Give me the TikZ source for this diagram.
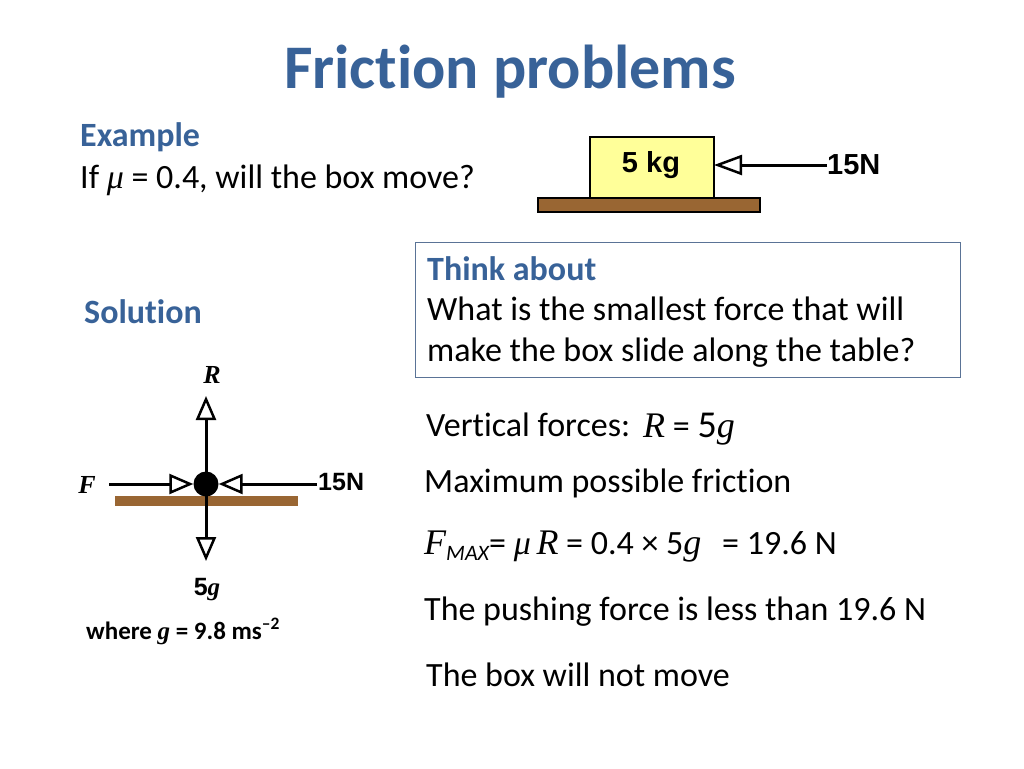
\documentclass[tikz,border=0pt]{standalone}
\usepackage{fontspec}
\setmainfont{Carlito}[Ligatures=NoCommon]
\newfontfamily\arialfont{Liberation Sans}
\newfontfamily\timesfont{Liberation Serif}
\usetikzlibrary{arrows.meta}
\definecolor{headblue}{RGB}{56,98,152}
\definecolor{boxyellow}{RGB}{255,255,153}
\definecolor{tablebrown}{RGB}{153,102,51}
\definecolor{frameblue}{RGB}{90,115,150}
\newcommand{\tvar}[1]{{\fontsize{36}{40}\timesfont\itshape #1}}
\tikzset{
  txt/.style={anchor=base west,inner sep=0pt,font=\fontsize{34}{40}\selectfont},
  head/.style={txt,text=headblue,font=\fontsize{34}{40}\selectfont\bfseries},
  lbl/.style={inner sep=0pt,font=\fontsize{29}{34}\selectfont\arialfont\bfseries},
  force/.style={line width=3pt,-{Triangle[fill=white,length=24pt,width=20pt,line width=2.5pt]}},
}
\begin{document}
\begin{tikzpicture}[x=1pt,y=-1pt]
  \useasboundingbox (0,0) rectangle (1024,768);
  \node[inner sep=0pt,text=headblue,font=\fontsize{62}{70}\selectfont\bfseries] (title) at (510,72) {Friction problems};
  \node[head] (example) at (80,146) {Example};
  \node[txt] (question) at (80,188) {If {\timesfont\itshape μ} = 0.4, will the box move?};
  % box on the table
  \draw[fill=tablebrown,line width=1.5pt] (538,198) rectangle (760,212);
  \draw[fill=boxyellow,line width=1.5pt] (590,137) rectangle (714,198);
  \node[lbl] (mass) at (651,165) {5 kg};
  \coordinate (boxside) at (714,165);
  \node[lbl,anchor=west] (push) at (827,165) {15N};
  \draw[force,-{Triangle[fill=white,length=28pt,width=20pt,line width=2.5pt]}] (push.west) -- (boxside);
  % think about
  \draw[frameblue,line width=1pt] (415,242) rectangle (960,377);
  \node[head] (think) at (427,280) {Think about};
  \node[txt] (q1) at (427,320) {What is the smallest force that will};
  \node[txt] (q2) at (427,361) {make the box slide along the table?};
  \node[head] (solution) at (84,323) {Solution};
  % force diagram
  \fill[tablebrown] (115,496) rectangle (298,506);
  \node[circle,fill=black,inner sep=0pt,minimum size=25pt] (dot) at (206,484) {};
  \node[inner sep=0pt,font=\fontsize{26}{30}\selectfont\timesfont\bfseries\itshape] (R) at (212,375) {R};
  \node[inner sep=0pt,font=\fontsize{26}{30}\selectfont\timesfont\bfseries\itshape] (F) at (87,485) {F};
  \node[inner sep=0pt,anchor=west,font=\fontsize{25}{30}\selectfont\arialfont\bfseries] (load) at (318,482) {15N};
  \node[inner sep=0pt,font=\fontsize{25}{30}\selectfont\arialfont\bfseries] (weight) at (207,590) {5{\timesfont\itshape g}};
  \coordinate (up) at (206,396);
  \coordinate (down) at (206,561);
  \coordinate (left) at (109,484);
  \coordinate (right) at (317,484);
  \draw[force] (dot.center) -- (up);
  \draw[force] (dot.center) -- (down);
  \draw[force] (left) -- (dot.west);
  \draw[force] (right) -- (dot.east);
  \node[anchor=base west,inner sep=0pt,font=\fontsize{25}{30}\selectfont\bfseries] (where) at (86,639) {where {\timesfont\itshape g} = 9.8 ms\textsuperscript{--2}};
  % working
  \node[txt] (vert) at (426,436) {Vertical forces:};
  \node[txt] (vertres) at (643,437) {\tvar{R} = {\fontsize{38}{40}\selectfont 5}\tvar{g}};
  \node[txt] (maxf) at (424,492) {Maximum possible friction};
  \node[txt] (fmax) at (424,554) {\tvar{F}\raisebox{-6pt}{\fontsize{22}{26}\selectfont\itshape MAX}= {\timesfont\itshape μ}\,\tvar{R} = 0.4 × 5\tvar{g}};
  \node[txt] (fres) at (722,554) {= 19.6 N};
  \node[txt] (less) at (424,620) {The pushing force is less than 19.6 N};
  \node[txt] (still) at (426,686) {The box will not move};
\end{tikzpicture}
\end{document}
